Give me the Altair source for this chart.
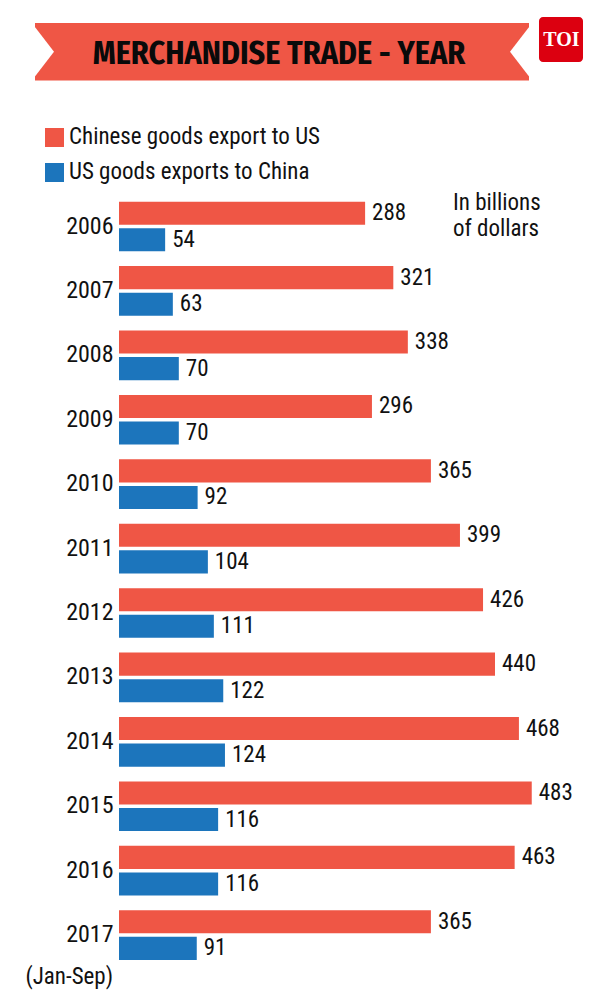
import altair as alt
import pandas as pd

years = ["2006", "2007", "2008", "2009", "2010", "2011", "2012", "2013", "2014", "2015", "2016", "2017"]
china_to_us = [288, 321, 338, 296, 365, 399, 426, 440, 468, 483, 463, 365]
us_to_china = [54, 63, 70, 70, 92, 104, 111, 122, 124, 116, 116, 91]
series = ["Chinese goods export to US", "US goods exports to China"]

RED = "#EF5645"
BLUE = "#1C75BC"
INK = "#111111"
FONT = "Roboto Condensed, DejaVu Sans Condensed, sans-serif"
TFONT = "Fira Sans Condensed, Roboto Condensed, sans-serif"

rows = []
for i, yr in enumerate(years):
    rows.append({"year": yr, "series": series[0], "value": china_to_us[i]})
    rows.append({"year": yr, "series": series[1], "value": us_to_china[i]})
df = pd.DataFrame(rows)
one = pd.DataFrame({"k": [0]})

# plot-area origin in page pixels (used for decorative items only)
PX0, PY0 = 119, 194.3
def px(v):
    return v - PX0
def py(v):
    return v - PY0

y_enc = alt.Y("year:N", sort=years,
              scale=alt.Scale(paddingInner=0.23, paddingOuter=0.115),
              axis=alt.Axis(title=None, ticks=False, domain=False, grid=False,
                            labelFontSize=24, labelFont=FONT, labelColor=INK,
                            labelPadding=6))
yoff_enc = alt.YOffset("series:N", sort=series,
                       scale=alt.Scale(paddingInner=0.13, paddingOuter=0))
x_enc = alt.X("value:Q", scale=alt.Scale(domain=[0, 550], nice=False), axis=None)

bars = alt.Chart(df).mark_bar(opacity=1).encode(
    x=x_enc, y=y_enc, yOffset=yoff_enc,
    color=alt.Color("series:N", sort=series,
                    scale=alt.Scale(domain=series, range=[RED, BLUE]),
                    legend=alt.Legend(title=None, orient="none",
                                      legendX=px(43), legendY=py(126),
                                      symbolType="square", symbolSize=361,
                                      symbolStrokeWidth=0, symbolOpacity=1,
                                      labelFontSize=23, labelFont=FONT,
                                      labelColor=INK, labelOffset=3,
                                      rowPadding=11, padding=0, labelLimit=400)),
)

labels = alt.Chart(df).mark_text(align="left", baseline="middle", dx=7,
                                 fontSize=23, font=FONT, color=INK).encode(
    x=x_enc, y=y_enc, yOffset=yoff_enc, text=alt.Text("value:Q"),
)

jan_sep = alt.Chart(one).mark_text(align="right", baseline="middle", dx=-6, dy=42,
                                   fontSize=23, font=FONT, color=INK).encode(
    x=alt.value(0), y=alt.Y(datum="2017", type="nominal"),
    text=alt.value("(Jan-Sep)"),
)

units1 = alt.Chart(one).mark_text(align="left", baseline="middle", fontSize=23,
                                  font=FONT, color=INK).encode(
    x=alt.value(px(453)), y=alt.value(py(203)), text=alt.value("In billions"))
units2 = alt.Chart(one).mark_text(align="left", baseline="middle", fontSize=23,
                                  font=FONT, color=INK).encode(
    x=alt.value(px(453)), y=alt.value(py(229.5)), text=alt.value("of dollars"))

banner = alt.Chart(one).mark_rect(color=RED, opacity=1).encode(
    x=alt.value(px(35)), x2=alt.value(px(529)),
    y=alt.value(py(23)), y2=alt.value(py(80.5)))

notch_l = alt.Chart(one).mark_point(shape="M -0.45 -1.02 L 0.333 0 L -0.45 1.02 Z",
                                    size=3249, filled=True, color="white",
                                    opacity=1, strokeWidth=0).encode(
    x=alt.value(px(44.5)), y=alt.value(py(51.7)))
notch_r = alt.Chart(one).mark_point(shape="M 0.45 -1.02 L -0.333 0 L 0.45 1.02 Z",
                                    size=3249, filled=True, color="white",
                                    opacity=1, strokeWidth=0).encode(
    x=alt.value(px(519.5)), y=alt.value(py(51.7)))

title = alt.Chart(one).mark_text(align="center", baseline="middle", fontSize=32,
                                 fontWeight="bold", font=TFONT, color="#0a0a0a").encode(
    x=alt.value(px(279)), y=alt.value(py(54)),
    text=alt.value("MERCHANDISE TRADE - YEAR"))

toi_box = alt.Chart(one).mark_rect(color="#DC0010", cornerRadius=4, opacity=1).encode(
    x=alt.value(px(539)), x2=alt.value(px(583)),
    y=alt.value(py(17)), y2=alt.value(py(62)))
toi_txt = alt.Chart(one).mark_text(align="center", baseline="middle", fontSize=20,
                                   fontWeight="bold", font="Liberation Serif, DejaVu Serif, serif",
                                   color="white").encode(
    x=alt.value(px(561.5)), y=alt.value(py(40.5)), text=alt.value("TOI"))

chart = alt.layer(
    banner, notch_l, notch_r, title, toi_box, toi_txt,
    bars, labels, jan_sep, units1, units2,
).properties(
    width=470, height=773,
    autosize=alt.AutoSizeParams(type="none"),
    padding={"left": 111, "top": 186.3, "right": 3, "bottom": 28},
    background="white",
).configure_view(stroke=None)

chart.save("out.html", embed_options={"renderer": "svg", "actions": False})
